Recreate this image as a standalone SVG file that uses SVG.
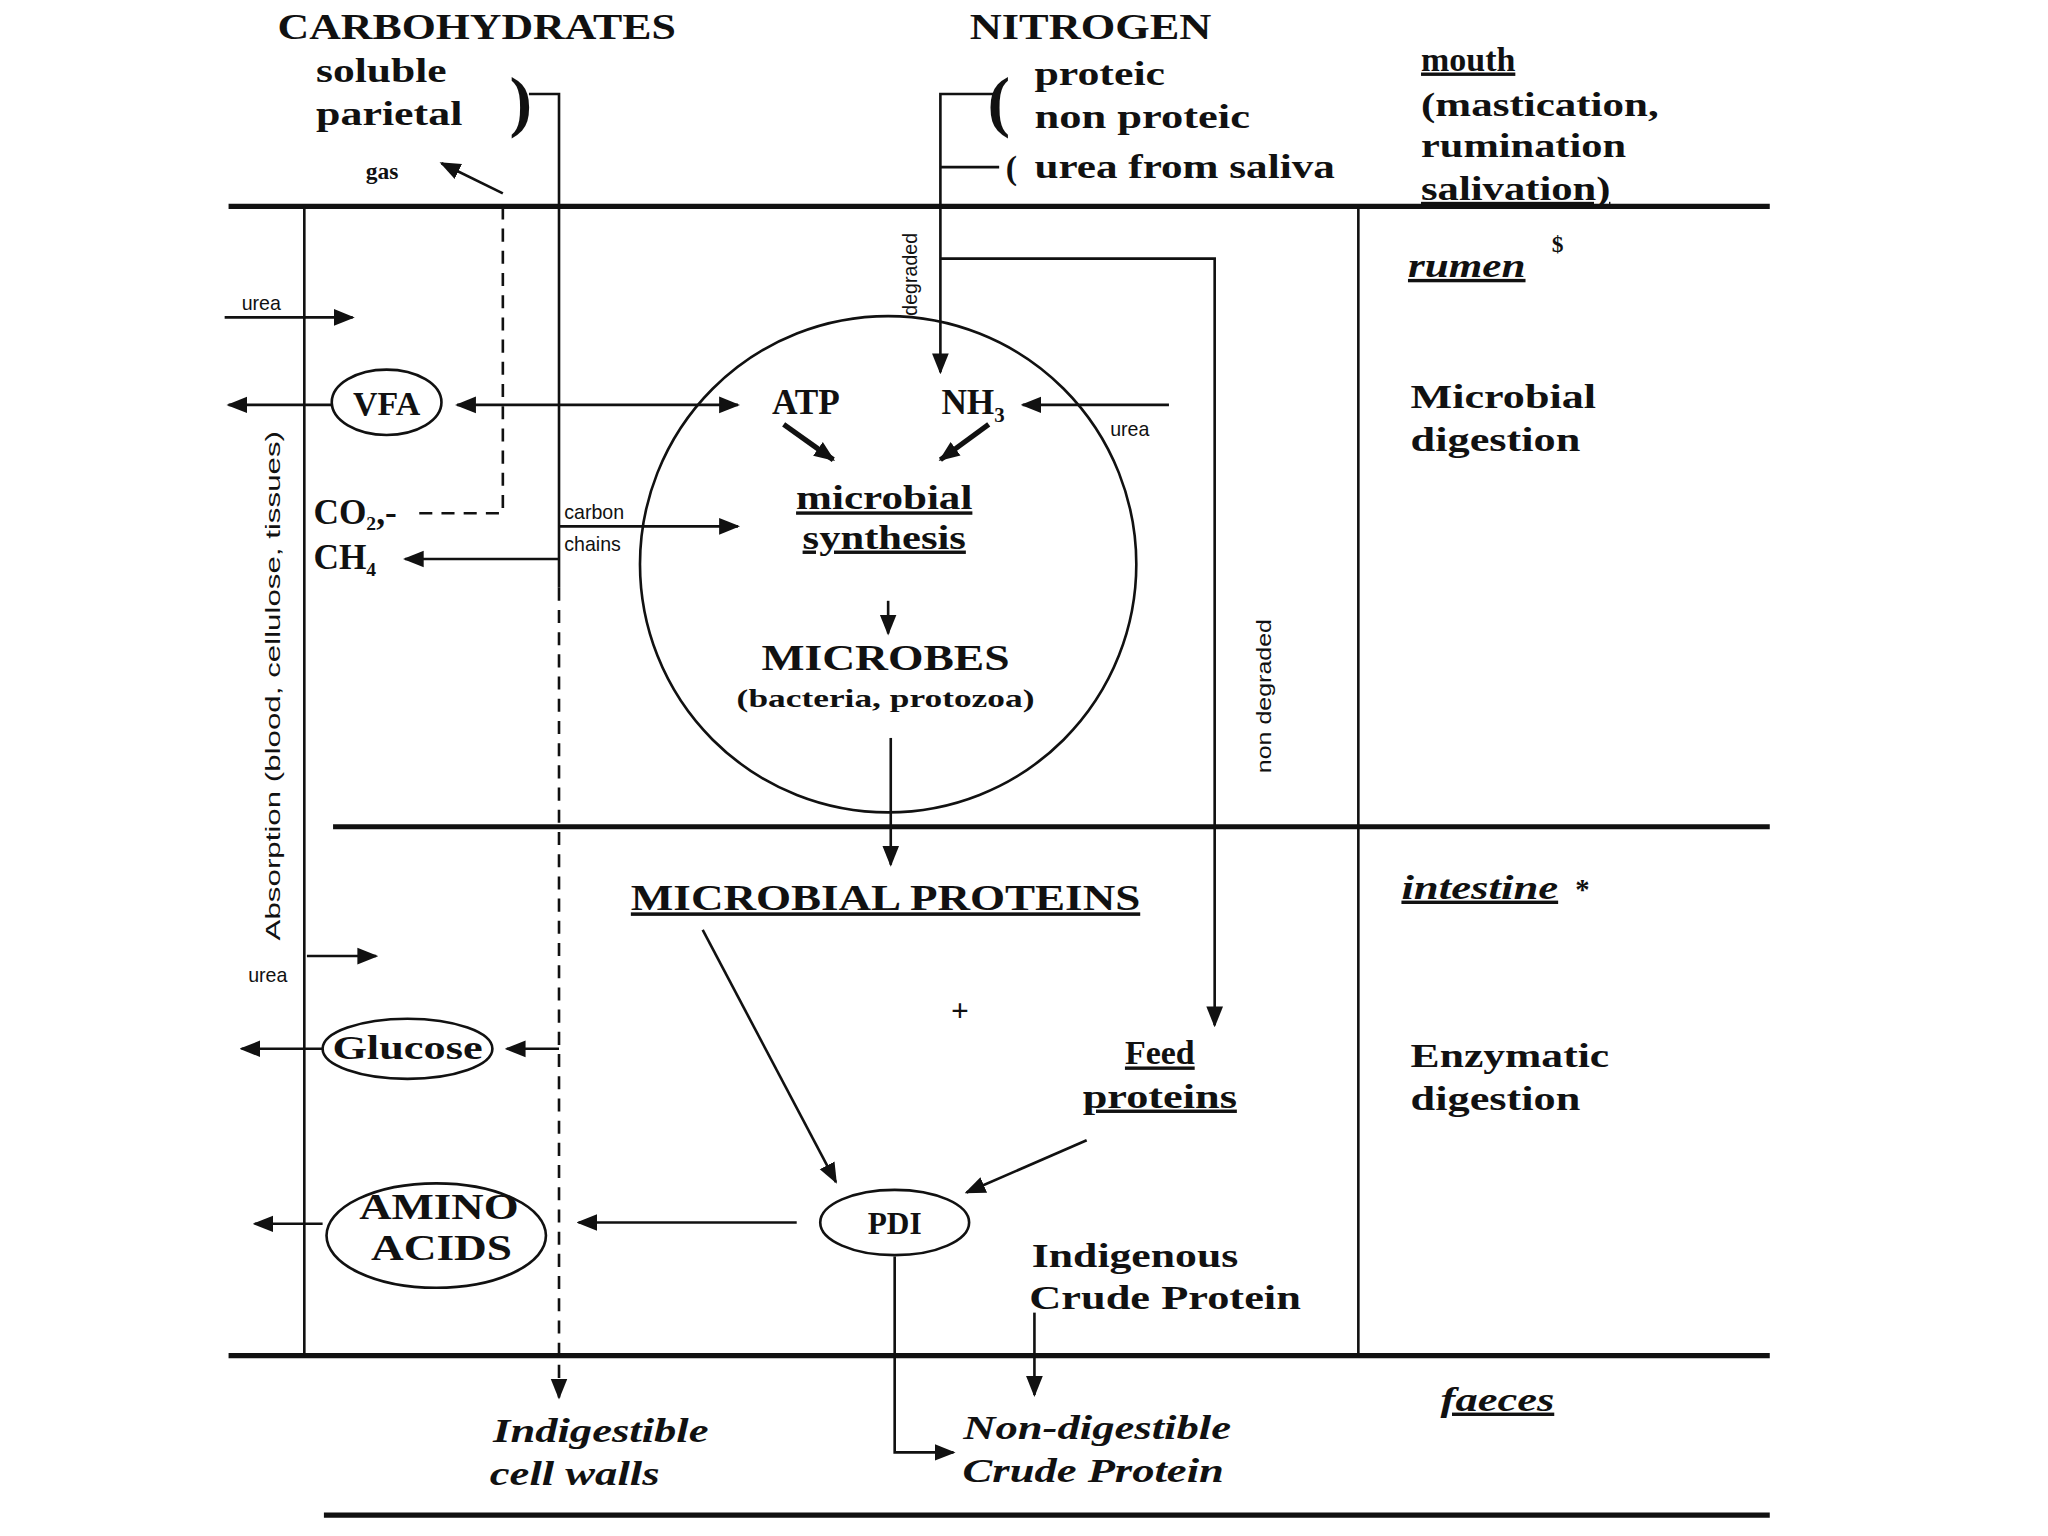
<svg xmlns="http://www.w3.org/2000/svg" width="2048" height="1536" viewBox="0 0 2048 1536">
<defs>
<marker id="b" viewBox="0 0 10 10" refX="9" refY="5" markerWidth="16" markerHeight="16" markerUnits="userSpaceOnUse" orient="auto-start-reverse"><path d="M0,1 L10,5 L0,9 z" fill="#111"/></marker>
</defs>
<style>
text{font-family:"Liberation Serif",serif;fill:#111;font-weight:bold}
.c{text-anchor:middle}
.s{font-family:"Liberation Sans",sans-serif;font-weight:normal;font-size:15px}
.t{font-size:27px}
.l{stroke:#111;stroke-width:2;fill:none}
.h{stroke:#111;stroke-width:4;fill:none}
.d{stroke-dasharray:10,7}
.i{font-style:italic}
</style>
<rect width="2048" height="1536" fill="#fff"/>
<g transform="scale(1.3061)">
<g id="frame">
<line class="h" x1="175" y1="158" x2="1355" y2="158"/>
<line class="h" x1="255" y1="633" x2="1355" y2="633"/>
<line class="h" x1="175" y1="1038" x2="1355" y2="1038"/>
<line class="h" x1="248" y1="1160" x2="1355" y2="1160"/>
<line class="l" x1="233" y1="158" x2="233" y2="1038"/>
<line class="l" x1="1040" y1="158" x2="1040" y2="1038"/>
</g>
<g id="connectors">
<path class="l" d="M405,72 H428 V450"/>
<path class="l d" d="M428,450 V1070" marker-end="url(#b)"/>
<path class="l d" d="M385,158 V393 H320"/>
<path class="l" d="M385,148 L338,125" marker-end="url(#b)"/>
<path class="l" d="M765,72 H720 V285" marker-end="url(#b)"/>
<path class="l" d="M720,128 H765"/>
<path class="l" d="M720,198 H930 V785" marker-end="url(#b)"/>
<path class="l" d="M255,310 H175" marker-end="url(#b)"/>
<path class="l" d="M350,310 H565" marker-start="url(#b)" marker-end="url(#b)"/>
<path class="l" d="M172,243 H270" marker-end="url(#b)"/>
<path class="l" d="M895,310 H783" marker-end="url(#b)"/>
<path class="h" d="M600,325 L638,352" marker-end="url(#b)"/>
<path class="h" d="M757,325 L720,352" marker-end="url(#b)"/>
<path class="l" d="M428,403 H565" marker-end="url(#b)"/>
<path class="l" d="M428,428 H310" marker-end="url(#b)"/>
<path class="l" d="M680,460 V485" marker-end="url(#b)"/>
<path class="l" d="M682,565 V662" marker-end="url(#b)"/>
<path class="l" d="M235,732 H288" marker-end="url(#b)"/>
<path class="l" d="M247,803 H185" marker-end="url(#b)"/>
<path class="l" d="M428,803 H388" marker-end="url(#b)"/>
<path class="l" d="M538,712 L640,905" marker-end="url(#b)"/>
<path class="l" d="M832,873 L740,913" marker-end="url(#b)"/>
<path class="l" d="M610,936 H443" marker-end="url(#b)"/>
<path class="l" d="M247,937 H195" marker-end="url(#b)"/>
<path class="l" d="M792,1005 V1068" marker-end="url(#b)"/>
<path class="l" d="M685,962 V1112 H730" marker-end="url(#b)"/>
</g>
<g id="rumen-circle"><circle cx="680" cy="432" r="190" class="l"/></g>
<g id="carbohydrates">
<text x="365" y="30" class="c t" textLength="305" lengthAdjust="spacingAndGlyphs">CARBOHYDRATES</text>
<text x="242" y="63" font-size="26" textLength="100" lengthAdjust="spacingAndGlyphs">soluble</text>
<text x="242" y="96" font-size="26" textLength="112" lengthAdjust="spacingAndGlyphs">parietal</text>
<text x="390" y="95" font-size="52" font-weight="normal">)</text>
<text x="280" y="137" font-size="18">gas</text>
</g>
<g id="nitrogen">
<text x="835" y="30" class="c t" textLength="185" lengthAdjust="spacingAndGlyphs">NITROGEN</text>
<text x="756" y="95" font-size="52" font-weight="normal">(</text>
<text x="792" y="65" font-size="26" textLength="100" lengthAdjust="spacingAndGlyphs">proteic</text>
<text x="792" y="98" font-size="26" textLength="165" lengthAdjust="spacingAndGlyphs">non proteic</text>
<text x="770" y="137" font-size="26" font-weight="normal">(</text>
<text x="792" y="136" font-size="26" textLength="230" lengthAdjust="spacingAndGlyphs">urea from saliva</text>
<text class="s" transform="translate(702,210) rotate(-90)" text-anchor="middle">degraded</text>
<text class="s" transform="translate(973,533) rotate(-90)" text-anchor="middle" textLength="118" lengthAdjust="spacingAndGlyphs">non degraded</text>
</g>
<g id="vfa"><ellipse cx="296" cy="308" rx="42" ry="25" class="l"/><text x="296" y="318" class="c" font-size="26">VFA</text></g>
<g id="atp"><text x="617" y="317" class="c t">ATP</text></g>
<g id="nh3"><text x="745" y="317" class="c t">NH<tspan font-size="16" dy="6">3</tspan></text></g>
<text x="200" y="237" class="s c">urea</text>
<text x="865" y="334" class="s c">urea</text>
<g id="synthesis"><text x="677" y="390" class="c" font-size="26" textLength="135" lengthAdjust="spacingAndGlyphs" text-decoration="underline">microbial</text><text x="677" y="420" class="c" font-size="26" textLength="125" lengthAdjust="spacingAndGlyphs" text-decoration="underline">synthesis</text></g>
<text x="432" y="397" class="s">carbon</text><text x="432" y="422" class="s">chains</text>
<g id="co2"><text x="240" y="401" class="t">CO<tspan font-size="15" dy="5">2</tspan><tspan dy="-5">,-</tspan></text><text x="240" y="436" class="t">CH<tspan font-size="15" dy="5">4</tspan></text></g>
<g id="microbes"><text x="678" y="513" class="c t" textLength="190" lengthAdjust="spacingAndGlyphs">MICROBES</text><text x="678" y="541" class="c" font-size="19" textLength="228" lengthAdjust="spacingAndGlyphs">(bacteria, protozoa)</text></g>
<g id="microbial-proteins"><text x="678" y="697" class="c t" textLength="390" lengthAdjust="spacingAndGlyphs" text-decoration="underline">MICROBIAL PROTEINS</text></g>
<text class="s" transform="translate(214,525) rotate(-90)" text-anchor="middle" font-size="22" font-weight="bold" textLength="390" lengthAdjust="spacingAndGlyphs">Absorption (blood, cellulose, tissues)</text>
<text x="205" y="752" class="s c">urea</text>
<g id="glucose"><ellipse cx="312" cy="803" rx="65" ry="23" class="l"/><text x="312" y="811" class="c" font-size="26" textLength="115" lengthAdjust="spacingAndGlyphs">Glucose</text></g>
<text x="735" y="782" class="c" font-size="24" font-weight="normal">+</text>
<g id="feed"><text x="888" y="815" class="c" font-size="26" text-decoration="underline">Feed</text><text x="888" y="848" class="c" font-size="26" textLength="118" lengthAdjust="spacingAndGlyphs" text-decoration="underline">proteins</text></g>
<g id="pdi"><ellipse cx="685" cy="936" rx="57" ry="25" class="l"/><text x="685" y="945" class="c" font-size="24">PDI</text></g>
<g id="amino"><ellipse cx="334" cy="946" rx="84" ry="40" class="l"/><text x="336" y="933" class="c t" textLength="122" lengthAdjust="spacingAndGlyphs">AMINO</text><text x="338" y="965" class="c t" textLength="108" lengthAdjust="spacingAndGlyphs">ACIDS</text></g>
<g id="indigenous"><text x="790" y="970" font-size="26" textLength="158" lengthAdjust="spacingAndGlyphs">Indigenous</text><text x="788" y="1002" font-size="26" textLength="208" lengthAdjust="spacingAndGlyphs">Crude Protein</text></g>
<g id="cellwalls"><text x="460" y="1104" class="c i" font-size="26" textLength="165" lengthAdjust="spacingAndGlyphs">Indigestible</text><text x="440" y="1137" class="c i" font-size="26" textLength="130" lengthAdjust="spacingAndGlyphs">cell walls</text></g>
<g id="nondig"><text x="840" y="1102" class="c i" font-size="26" textLength="205" lengthAdjust="spacingAndGlyphs">Non-digestible</text><text x="837" y="1135" class="c i" font-size="26" textLength="200" lengthAdjust="spacingAndGlyphs">Crude Protein</text></g>
<g id="labels">
<text x="1088" y="54" font-size="26" text-decoration="underline">mouth</text>
<text x="1088" y="89" font-size="26" textLength="182" lengthAdjust="spacingAndGlyphs">(mastication,</text>
<text x="1088" y="120" font-size="26" textLength="157" lengthAdjust="spacingAndGlyphs">rumination</text>
<text x="1088" y="153" font-size="26" textLength="145" lengthAdjust="spacingAndGlyphs" text-decoration="underline">salivation)</text>
<text x="1078" y="212" font-size="26" class="i" textLength="90" lengthAdjust="spacingAndGlyphs" text-decoration="underline">rumen</text><text x="1188" y="193" font-size="18">$</text>
<text x="1080" y="312" font-size="26" textLength="142" lengthAdjust="spacingAndGlyphs">Microbial</text><text x="1080" y="345" font-size="26" textLength="130" lengthAdjust="spacingAndGlyphs">digestion</text>
<text x="1073" y="688" font-size="26" class="i" textLength="120" lengthAdjust="spacingAndGlyphs" text-decoration="underline">intestine</text><text x="1206" y="688" font-size="22">*</text>
<text x="1080" y="817" font-size="26" textLength="152" lengthAdjust="spacingAndGlyphs">Enzymatic</text><text x="1080" y="850" font-size="26" textLength="130" lengthAdjust="spacingAndGlyphs">digestion</text>
<text x="1103" y="1080" font-size="26" class="i" textLength="87" lengthAdjust="spacingAndGlyphs" text-decoration="underline">faeces</text>
</g>
</g>
</svg>
